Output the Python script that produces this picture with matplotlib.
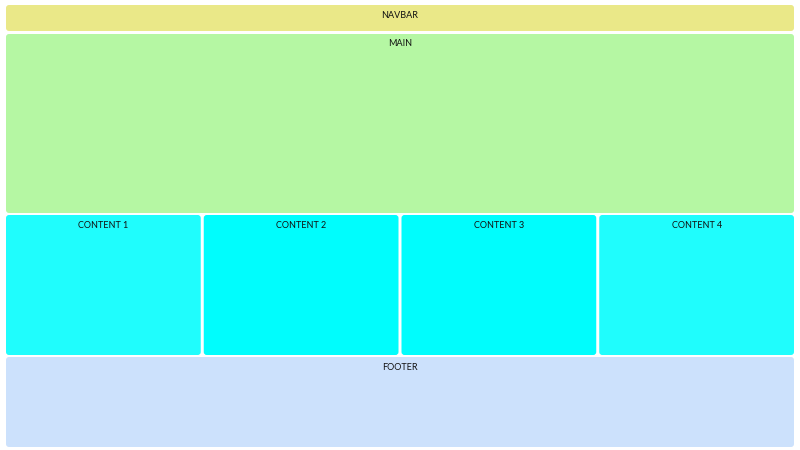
import matplotlib
matplotlib.use("Agg")
import matplotlib.pyplot as plt
from matplotlib.patches import FancyBboxPatch

# layout regions (label, colour)
header_label = "NAVBAR"
main_label = "MAIN"
content_labels = ["CONTENT 1", "CONTENT 2", "CONTENT 3", "CONTENT 4"]
footer_label = "FOOTER"
colors = {
    "NAVBAR": "#eae888",
    "MAIN": "#b5f7a3",
    "CONTENT 1": "#1ffdfd",
    "CONTENT 2": "#00fdfd",
    "CONTENT 3": "#00fdfd",
    "CONTENT 4": "#1ffdfd",
    "FOOTER": "#cce1fc",
}

fig = plt.figure(figsize=(8, 4.5), dpi=100)
ax = fig.add_axes([0, 0, 1, 1])
ax.set_xlim(0, 800)
ax.set_ylim(450, 0)
ax.axis("off")

left, right, gap = 6, 794, 3


def box(x0, y0, x1, y1, label):
    ax.add_patch(FancyBboxPatch((x0, y0), x1 - x0, y1 - y0,
                                boxstyle="round,pad=0,rounding_size=3",
                                fc=colors[label], ec="none"))
    ax.text((x0 + x1) / 2, y0 + 10, label, ha="center", va="center",
            fontsize=6.5, family="Lato", color="#111111")


box(left, 5, right, 31, header_label)
box(left, 34, right, 213, main_label)
w = (right - left - gap * (len(content_labels) - 1)) / len(content_labels)
for i, lab in enumerate(content_labels):
    x0 = left + i * (w + gap)
    box(x0, 215, x0 + w, 355, lab)
box(left, 357, right, 447, footer_label)

fig.savefig("out.png", dpi=100)
